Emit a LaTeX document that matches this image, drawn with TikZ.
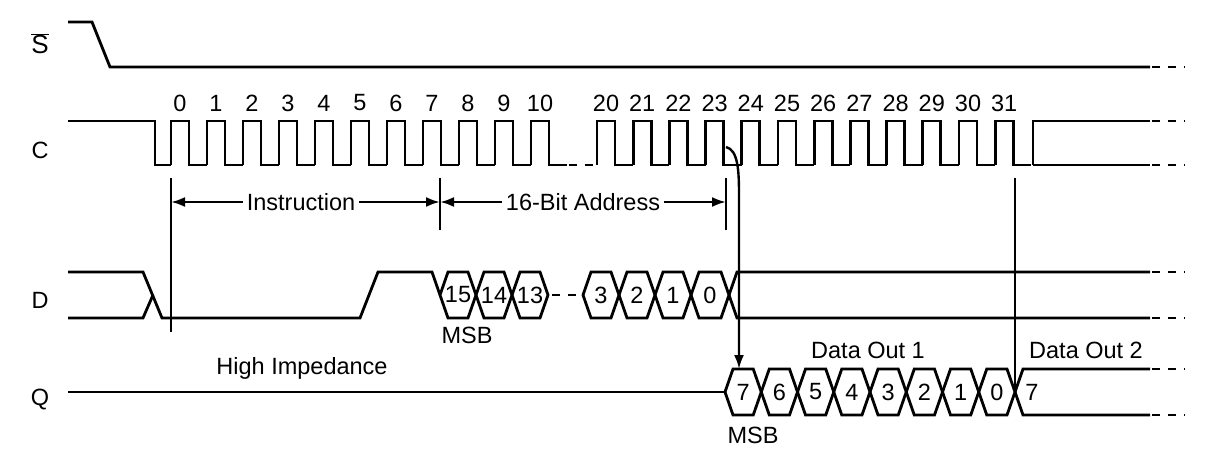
\documentclass[tikz,border=0pt]{standalone}
\usepackage{fontspec}
\setmainfont{Liberation Sans}
\usetikzlibrary{arrows.meta}
\tikzset{sig/.style={line width=2.8pt, line join=miter},
  tail/.style={line width=2.8pt, dash pattern=on 8pt off 8pt},
  guide/.style={line width=2.4pt},
  lbl/.style={font=\fontsize{23.5}{27}\selectfont, inner sep=1pt},
  dim/.style={line width=2.4pt, -{Latex[length=14pt,width=10pt]}}}
\newcommand{\hexbit}[5]{% left, right, top, bottom, text
  \draw[sig] (#1,{(#3+#4)/2}) -- (#1+8,#3) -- (#2-8,#3) -- (#2,{(#3+#4)/2}) -- (#2-8,#4) -- (#1+8,#4) -- cycle;
  \node[lbl] at ({(#1+#2)/2},{(#3+#4)/2}) {#5};}
\begin{document}
\begin{tikzpicture}[x=1pt,y=-1pt]
\useasboundingbox (0,0) rectangle (1215,454);
% Signal names
\node[lbl, font=\fontsize{26}{30}\selectfont] (nS) at (40,44) {$\overline{\mbox{S}}$};
\node[lbl] (nC) at (40,150) {C};
\node[lbl] (nD) at (40,300) {D};
\node[lbl] (nQ) at (40,400) {Q};
% S
\draw[sig] (68,22) -- (92,22) -- (110,67) -- (1150,67);
\draw[tail] (1152,67) -- (1185,67);
% C
\draw[sig] (68,121) -- (155,121) -- (155,165) -- (171,165);
\foreach \i in {0,...,10}{
  \pgfmathsetmacro\r{171+36*\i}
  \draw[sig] (\r,165) -- (\r,121) -- (\r+18,121) -- (\r+18,165) -- (\r+36,165);
  \node[lbl] at (\r+9,103) {\i};}
\draw[tail] (553,165) -- (597,165);
\foreach \i in {20,...,31}{
  \pgfmathsetmacro\r{597+36.2*(\i-20)}
  \draw[sig] (\r,165) -- (\r,121) -- (\r+18,121) -- (\r+18,165) -- (\r+36.2,165);
  \node[lbl] at (\r+9,103) {\i};}
\draw[sig] (1033,165) -- (1033,121) -- (1150,121);
\draw[sig] (1033,165) -- (1150,165);
\draw[tail] (1152,121) -- (1185,121);
\draw[tail] (1152,165) -- (1185,165);
% Dimension marks
\coordinate (m0) at (171,202);
\coordinate (m1) at (440,202);
\coordinate (m2) at (726,202);
\draw[guide] (171,178) -- (171,332);
\draw[guide] (440,178) -- (440,230);
\draw[guide] (726,178) -- (726,230);
\node[lbl, fill=white, inner sep=4pt] (ins) at (301,202) {Instruction};
\node[lbl, fill=white, inner sep=4pt] (adr) at (583,202) {16-Bit Address};
\draw[dim] (ins) -- (m0);
\draw[dim] (ins) -- (m1);
\draw[dim] (adr) -- (m1);
\draw[dim] (adr) -- (m2);
% D
\draw[sig] (68,272) -- (143,272) -- (162,318) -- (360,318) -- (378,272) -- (432,272) -- (440,295);
\draw[sig] (68,318) -- (143,318) -- (153,295);
\hexbit{440}{476}{272}{318}{15}
\hexbit{476}{512}{272}{318}{14}
\hexbit{512}{548}{272}{318}{13}
\draw[tail] (552,295) -- (583,295);
\hexbit{583}{619}{272}{318}{3}
\hexbit{619}{655}{272}{318}{2}
\hexbit{655}{691}{272}{318}{1}
\hexbit{691}{729}{272}{318}{0}
\draw[sig] (729,295) -- (737,272) -- (1150,272);
\draw[sig] (729,295) -- (737,318) -- (1150,318);
\draw[tail] (1152,272) -- (1185,272);
\draw[tail] (1152,318) -- (1185,318);
\node[lbl] (msbD) at (467,335) {MSB};
% Q
\node[lbl] (hiz) at (302,368) {High Impedance};
\draw[sig] (68,392) -- (725,392);
\foreach \b [count=\k from 0] in {7,6,5,4,3,2,1,0}{
  \pgfmathsetmacro\l{725+36.25*\k}
  \hexbit{\l}{\l+36.25}{369}{415}{\b}}
\draw[sig] (1015,392) -- (1023,369) -- (1150,369);
\draw[sig] (1015,392) -- (1023,415) -- (1150,415);
\draw[tail] (1152,369) -- (1185,369);
\draw[tail] (1152,415) -- (1185,415);
\node[lbl] at (1032,392) {7};
\node[lbl] (msbQ) at (753,435) {MSB};
\node[lbl] (do1) at (868,350) {Data Out 1};
\node[lbl] (do2) at (1086,350) {Data Out 2};
% Timing references
\coordinate (t23) at (726,147);
\coordinate (q7) at (739,369);
\draw[guide, -{Latex[length=14pt,width=10pt]}] (t23) .. controls (738,150) and (739,170) .. (739,195) -- (q7);
\draw[guide] (1015,178) -- (1015,392);
\end{tikzpicture}
\end{document}
